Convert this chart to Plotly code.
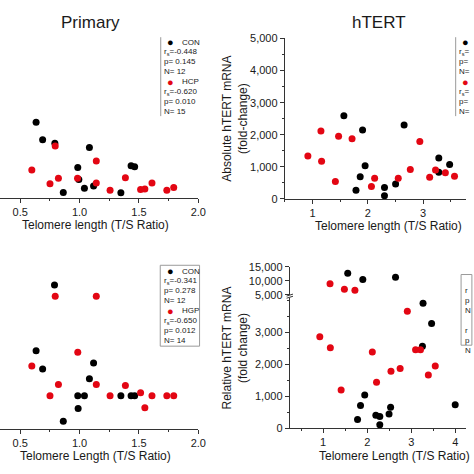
import plotly.graph_objects as go

W = H = 474
def fx(p):
    return p / W
def fy(p):
    return 1 - p / H

# ---------------- data ----------------
# Top-left: Primary, absolute hTERT mRNA (y axis cropped in the reference)
p_con_tl = [0.634, 0.689, 0.792, 1.083, 0.985, 0.994, 1.434, 1.464, 0.863, 1.041, 1.118, 1.348]
p_con_abs = [2362, 1815, 1711, 1572, 951, 578, 1003, 973, 173, 304, 374, 161]
p_hcp_tl = [0.598, 0.795, 0.751, 0.822, 0.983, 1.141, 1.141, 1.257, 1.386, 1.514, 1.55, 1.61, 1.735, 1.793]
p_hcp_abs = [872, 1620, 447, 617, 617, 1155, 465, 243, 629, 264, 283, 465, 243, 325]

# Top-right: hTERT, absolute hTERT mRNA
h_con_tl = [1.568, 1.906, 2.657, 1.952, 1.863, 1.787, 2.302, 2.302, 2.503, 3.284, 3.284, 3.48]
h_con_abs = [2593, 2149, 2301, 1033, 690, 274, 356, 100, 465, 1277, 830, 1073]
h_hcp_tl = [0.917, 1.153, 1.165, 1.414, 1.472, 1.716, 2.124, 2.066, 2.551, 2.769, 2.941, 3.119, 3.225, 3.403, 3.568]
h_hcp_abs = [1337, 2119, 1176, 547, 1954, 1875, 647, 386, 647, 921, 1793, 678, 903, 821, 708]

# Bottom-left: Primary, relative hTERT mRNA (y axis cropped in the reference)
p_con_tl2 = [0.789, 0.634, 0.689, 1.118, 1.083, 0.985, 1.041, 0.988, 0.863, 1.348, 1.434, 1.464]
p_con_rel = [4517, 2456, 1887, 2070, 1581, 1040, 1040, 642, 245, 1040, 1040, 1040]
p_hgp_tl2 = [0.795, 1.141, 0.598, 0.985, 0.822, 0.751, 1.141, 1.257, 1.386, 1.514, 1.55, 1.61, 1.735, 1.793]
p_hgp_rel = [4168, 4168, 1979, 2407, 1398, 1040, 1398, 1040, 1367, 1141, 664, 1040, 1040, 1040]

# Bottom-right: hTERT, relative hTERT mRNA (broken axis)
h_con_tl2 = [1.558, 1.9, 2.643, 3.268, 3.462, 3.254, 1.944, 1.848, 1.781, 2.196, 2.286, 2.286, 2.496, 2.531, 3.998]
h_con_rel = [12692, 10455, 11294, 3914, 3281, 2569, 1040, 703, 266, 398, 358, 101, 437, 651, 734]
h_hgp_tl2 = [1.156, 1.482, 1.721, 2.911, 0.924, 1.163, 2.116, 3.098, 3.21, 2.748, 2.54, 2.212, 1.408, 3.388, 3.545]
h_hgp_rel = [8951, 6958, 6608, 3661, 2865, 2517, 2385, 2456, 2456, 1865, 1783, 1437, 1193, 1661, 1948]

BREAK = 4500

legend_tl = ["CON", "r<sub>s</sub>=-0.448", "p= 0.145", "N= 12",
             "HCP", "r<sub>s</sub>=-0.620", "p= 0.010", "N= 15"]
legend_bl = ["CON", "r<sub>s</sub>=-0.341", "p= 0.278", "N= 12",
             "HGP", "r<sub>s</sub>=-0.650", "p= 0.012", "N= 14"]
# right-hand legends are cut by the image edge: only their first characters show
legend_tr = ["", "r<sub>s</sub>=", "p=", "N=", "", "r<sub>s</sub>=", "p=", "N="]
legend_br = [None, "r", "p", "N", None, "r", "p", "N"]

BLACK = "#000000"
RED = "#e30613"
FONT = "Liberation Sans, Arial, sans-serif"
TXT = "#1a1a1a"

fig = go.Figure()

def sc(x, y, color, xa, ya):
    fig.add_trace(go.Scatter(x=x, y=y, mode="markers", xaxis=xa, yaxis=ya,
                             marker=dict(size=7, color=color, line=dict(width=0)),
                             showlegend=False, hoverinfo="skip"))

sc(p_con_tl, p_con_abs, BLACK, "x", "y")
sc(p_hcp_tl, p_hcp_abs, RED, "x", "y")
sc(h_con_tl, h_con_abs, BLACK, "x2", "y2")
sc(h_hcp_tl, h_hcp_abs, RED, "x2", "y2")
sc(p_con_tl2, p_con_rel, BLACK, "x3", "y3")
sc(p_hgp_tl2, p_hgp_rel, RED, "x3", "y3")

def split(xs, ys, low):
    pts = [(a, b) for a, b in zip(xs, ys) if (b < BREAK) == low]
    return [p[0] for p in pts], [p[1] for p in pts]

for xs, ys, col in [(h_con_tl2, h_con_rel, BLACK), (h_hgp_tl2, h_hgp_rel, RED)]:
    lx, ly = split(xs, ys, True)
    ux, uy = split(xs, ys, False)
    sc(lx, ly, col, "x4", "y4")
    sc(ux, uy, col, "x4", "y5")

axis_common = dict(showline=True, linecolor="#333", linewidth=1, ticks="outside",
                   ticklen=4, tickcolor="#333", tickwidth=1, showgrid=False, zeroline=False,
                   tickfont=dict(family=FONT, size=11, color=TXT))
minor_x = lambda d: dict(dtick=d, ticklen=2, ticks="outside", tickcolor="#333")

fig.update_layout(
    width=W, height=H, margin=dict(l=0, r=0, t=0, b=0),
    paper_bgcolor="white", plot_bgcolor="white", showlegend=False,
    xaxis=dict(domain=[0, fx(201.7)], range=[0.33, 2.0], anchor="y", dtick=0.5, tick0=0.5,
               tickformat=".1f", minor=minor_x(0.25), **axis_common),
    yaxis=dict(domain=[fy(197), fy(32.5)], range=[0, 5000], anchor="x", visible=False),
    xaxis2=dict(domain=[fx(289.7), 1], range=[0.5, 3.776], anchor="y2", dtick=1, tick0=1,
                minor=minor_x(0.5), **axis_common),
    yaxis2=dict(domain=[fy(198), fy(33.3)], range=[0, 5000], anchor="x2", dtick=1000, tickformat=",d",
                minor=minor_x(500), **axis_common),
    xaxis3=dict(domain=[0, fx(201.7)], range=[0.33, 2.0], anchor="y3", dtick=0.5, tick0=0.5,
                tickformat=".1f", minor=minor_x(0.25), **axis_common),
    yaxis3=dict(domain=[fy(434), fy(265.6)], range=[0, 5150], anchor="x3", visible=False),
    xaxis4=dict(domain=[fx(294.7), 1], range=[0.241, 4.243], anchor="y4", dtick=1, tick0=1,
                minor=minor_x(0.5), **axis_common),
    yaxis4=dict(domain=[fy(433), fy(298.9)], range=[0, 4100], anchor="x4",
                tickvals=[0, 1000, 2000, 3000], tickformat=",d", minor=minor_x(500), **axis_common),
    yaxis5=dict(domain=[fy(297.2), fy(267.7)], range=[4700, 15000], anchor="x4",
                tickvals=[5000, 10000, 15000], tickformat=",d", **axis_common),
)

ann = []
def text(x, y, s, size=12, xanchor="center", angle=0, color=TXT):
    ann.append(dict(x=fx(x), y=fy(y), xref="paper", yref="paper", text=s, showarrow=False,
                    xanchor=xanchor, yanchor="middle", textangle=angle,
                    font=dict(family=FONT, size=size, color=color)))

text(92, 17, "Primary", size=17)
text(385, 17, "hTERT", size=17)
text(97.5, 225, "Telomere length (T/S Ratio)")
text(395.5, 225.5, "Telomere length (T/S Ratio)")
text(97, 461.5, "Telomere Length (T/S Ratio)")
text(401, 461.5, "Telomere Length (T/S Ratio)")
text(239, 115.7, "Absolute hTERT mRNA<br>(fold-change)", angle=-90)
text(239, 350.4, "Relative hTERT mRNA<br>(fold change)", angle=-90)

def legend(x0, y0, rows, dy=10.2):
    for i, s in enumerate(rows):
        if s is None:
            continue
        y = y0 + i * dy
        if i in (0, 4):
            text(x0 + 9, y, "●", size=11, color=BLACK if i == 0 else RED)
            if s:
                text(x0 + 19, y, s, size=8, xanchor="left")
        else:
            text(x0, y, s, size=8, xanchor="left")

legend(164.5, 37, legend_tl)
legend(164.5, 272, legend_bl)
legend(464.5, 37, legend_tr)
legend(470.5, 282, legend_br)
fig.update_layout(annotations=ann)

shapes = []
def seg(x0, y0, x1, y1, color="#9a9a9a", w=1):
    shapes.append(dict(type="line", xref="paper", yref="paper", x0=fx(x0), y0=fy(y0),
                       x1=fx(x1), y1=fy(y1), line=dict(color=color, width=w)))

seg(163.5, 32, 163.5, 113)
shapes.append(dict(type="rect", xref="paper", yref="paper", x0=fx(163), y0=fy(349), x1=fx(203),
                   y1=fy(266), line=dict(color="#9a9a9a", width=1)))
seg(463.5, 32, 463.5, 113)
shapes.append(dict(type="rect", xref="paper", yref="paper", x0=fx(469), y0=fy(348), x1=fx(480),
                   y1=fy(275.5), line=dict(color="#9a9a9a", width=1)))
# axis break marks
shapes.append(dict(type="rect", xref="paper", yref="paper", x0=fx(292), y0=fy(299.5), x1=fx(297.5),
                   y1=fy(296.5), line=dict(width=0), fillcolor="white"))
seg(291.5, 299.8, 298, 297.8, color="#333")
seg(291.5, 297.6, 298, 295.6, color="#333")
fig.update_layout(shapes=shapes)

fig.write_html("out.html")
